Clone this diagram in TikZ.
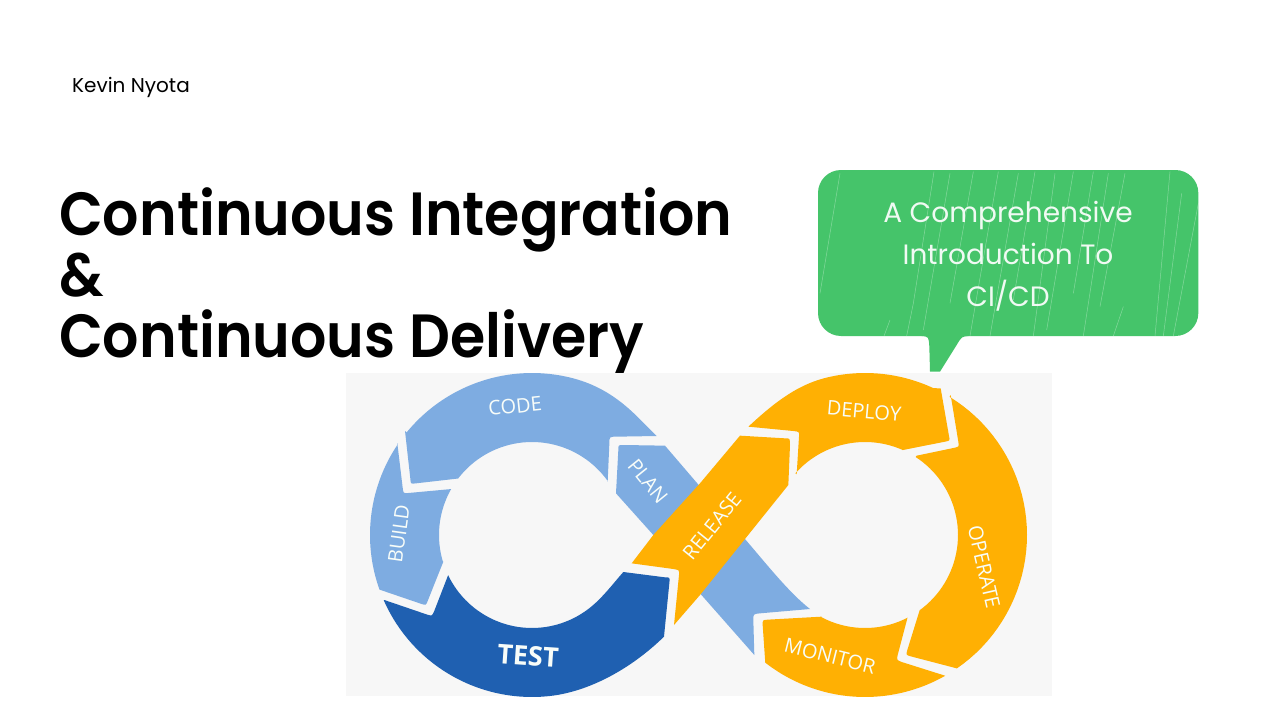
\documentclass[tikz,border=0pt]{standalone}
\usepackage{fontspec}
\setmainfont{Poppins}
\newfontfamily\titlefont{Poppins SemiBold}
\newfontfamily\labelfont{Open Sans}
\definecolor{lightblue}{HTML}{7EACE1}
\definecolor{darkblue}{HTML}{1F60B1}
\definecolor{amber}{HTML}{FFB003}
\definecolor{panel}{HTML}{F7F7F7}
\definecolor{bubble}{HTML}{45C46A}
\tikzset{
  declare function={lx(\r,\a)=576+\r*cos(\a); ly(\r,\a)=495+\r*sin(\a); rx(\r,\a)=495+\r*cos(\a); ry(\r,\a)=495+\r*sin(\a);},
  titletext/.style={anchor=base west,inner sep=0pt,xscale=.935,font=\titlefont\fontsize{61}{61}\selectfont,text=black},
  bubbletext/.style={anchor=base,inner sep=0pt,font=\fontsize{28}{28}\selectfont,text=white!92!bubble},
  ring/.style={white!96!bubble,anchor=center,inner sep=0pt,font=\labelfont\fontsize{20}{20}\selectfont},
  zoomone/.style={xshift=340pt,yshift=-370pt,x=0.33333pt,y=-0.33333pt},
  zoomtwo/.style={xshift=700pt,yshift=-370pt,x=0.33333pt,y=-0.33333pt},
  zoombub/.style={xshift=810pt,yshift=-160pt,x=0.33333pt,y=-0.33333pt},
  streak/.style={white,opacity=.35,line width=.5pt}
}
\begin{document}
\begin{tikzpicture}[x=1pt,y=-1pt]
\useasboundingbox (0,0) rectangle (1280,720);
\fill[white] (0,0) rectangle (1280,720);
\fill[panel] (346,373) rectangle (1052,696);
\begin{scope}
\clip (346,373) rectangle (1052,696);
% blue ribbon and left ring
\begin{scope}[zoomone]
\fill[lightblue] (835,240) .. controls (835,225) .. (850,225) -- (975,227) -- (1215,507)
  .. controls (1290,595) and (1350,670) .. (1410,717)
  -- (1260,730) .. controls (1240,732) .. (1240,750) -- (1243,855)
  -- (1080,670) -- (940,495) -- (828,370) -- cycle;
% code
\fill[lightblue] (195,183) -- plot[domain=-140.7:-75,samples=40] ({lx(486,\x)},{ly(486,\x)})
  .. controls (828,60) and (889,139) .. (950,198)
  -- (830,200) .. controls (808,200) .. (808,222) -- (803,335)
  -- plot[domain=-35.2:-142.6,samples=40] ({lx(279,\x)},{ly(279,\x)})
  -- (228,340) .. controls (212,342) .. (211,326) -- cycle;
% build
\fill[lightblue] (172,220) -- plot[domain=-145.8:-199.7,samples=40] ({lx(486,\x)},{ly(486,\x)})
  -- (245,702) .. controls (258,706) .. (263,693) -- (310,575)
  -- plot[domain=163.3:209.6,samples=40] ({lx(279,\x)},{ly(279,\x)})
  -- (205,369) .. controls (190,370) .. (188,353) -- cycle;
% test
\fill[darkblue] (133,690) -- plot[domain=156.2:85,samples=40] ({lx(486,\x)},{ly(486,\x)})
  .. controls (750,968) and (880,890) .. (972,800)
  -- (988,640) .. controls (990,622) .. (975,622) -- (850,606)
  .. controls (820,640) and (790,680) .. ({lx(279,50)},{ly(279,50)})
  -- plot[domain=50:154.4,samples=40] ({lx(279,\x)},{ly(279,\x)})
  -- (282,725) .. controls (276,738) .. (262,734) -- cycle;
% release
\fill[amber] (875,580) -- (1000,597) .. controls (1018,600) .. (1017,615) -- (1002,765) -- (1080,675) -- (1345,345)
  -- (1350,225) .. controls (1350,205) .. (1335,205) -- (1200,197) -- (1080,340) -- (940,495) -- cycle;
\end{scope}
% right ring
\begin{scope}[zoomtwo]
% deploy
\fill[amber] (145,170) -- (280,183) .. controls (298,185) .. (297,200) -- (290,313)
  -- plot[domain=-138.4:-66,samples=40] ({rx(279,\x)},{ry(279,\x)})
  -- (735,215) .. controls (750,212) .. (747,198) -- (722,55)
  -- plot[domain=-65:-105,samples=40] ({rx(486,\x)},{ry(486,\x)})
  .. controls (280,50) and (210,110) .. (145,170) -- cycle;
% operate
\fill[amber] (752,75) -- (775,215) .. controls (777,230) .. (765,233) -- (650,257)
  -- plot[domain=-57:54,samples=40] ({rx(279,\x)},{ry(279,\x)})
  -- (622,840) .. controls (618,855) .. (632,859) -- (770,895)
  -- plot[domain=55.5:-58.5,samples=40] ({rx(486,\x)},{ry(486,\x)}) -- cycle;
% monitor
\fill[amber] (188,765) .. controls (188,750) .. (203,749) -- (365,740)
  -- plot[domain=118:62.8,samples=40] ({rx(279,\x)},{ry(279,\x)})
  -- (593,855) .. controls (590,870) .. (605,876) -- (735,917)
  -- plot[domain=60.4:128,samples=40] ({rx(486,\x)},{ry(486,\x)}) -- cycle;
\end{scope}
\end{scope}
% ring labels
\node[ring,rotate=6] (code) at (515,406) {CODE};
\node[ring,rotate=82] (build) at (399,534) {BUILD};
\node[ring,rotate=-51] (plan) at (648,481) {PLAN};
\node[ring,rotate=51] (release) at (712,526) {RELEASE};
\node[ring,rotate=-5] (deploy) at (864,411) {DEPLOY};
\node[ring,rotate=-77] (operate) at (984,567) {OPERATE};
\node[ring,rotate=-14] (monitor) at (830,656) {MONITOR};
\node[ring,rotate=-4,font=\labelfont\bfseries\fontsize{27}{27}\selectfont] (test) at (528,656) {TEST};
% speech bubble
\begin{scope}[zoombub]
\path[fill=bubble,rounded corners=23pt] (24,30) rectangle (1165,528);
\fill[bubble] (335,520) -- (335,528) .. controls (356,530) .. (358,560) -- (360,635) -- (390,635) -- (440,555) .. controls (455,530) .. (475,528) -- (475,520) -- cycle;
\foreach \xa/\ya/\xb/\yb in {
 90/40/30/400, 240/480/222/528, 372/35/310/430, 420/40/340/510, 490/35/420/430, 565/35/480/528,
 625/40/540/528, 675/35/610/420, 735/40/670/528, 790/35/710/510, 850/35/790/400, 895/40/820/528,
 945/40/870/440, 940/440/910/528, 1080/35/1035/528, 1115/100/1060/528, 1165/130/1090/528, 310/430/290/528}
{\draw[streak] (\xa,\ya) -- (\xb,\yb);}
\end{scope}
% texts
\node[anchor=base west,inner sep=0pt,font=\fontsize{20}{20}\selectfont] (author) at (72,92) {Kevin Nyota};
\node[titletext] (t1) at (59,235) {Continuous Integration};
\node[titletext] (t2) at (59,296) {\&};
\node[titletext] (t3) at (59,357) {Continuous Delivery};
\node[bubbletext] (b1) at (1008,222) {A Comprehensive};
\node[bubbletext] (b2) at (1008,264) {Introduction To};
\node[bubbletext] (b3) at (1008,306) {CI/CD};
\end{tikzpicture}
\end{document}
